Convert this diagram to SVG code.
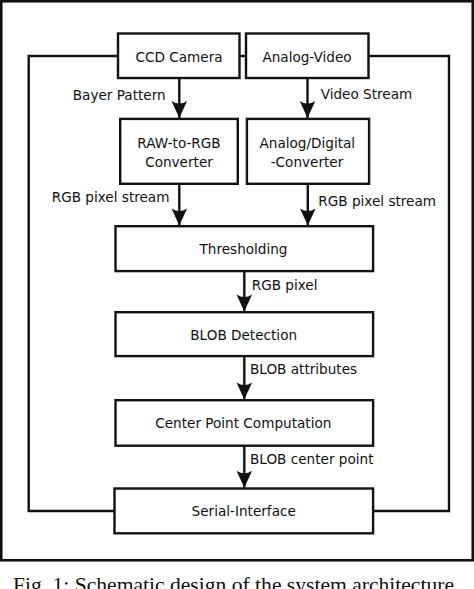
<svg xmlns="http://www.w3.org/2000/svg" width="474" height="589" viewBox="0 0 474 589">
<style>
.box{fill:#fff;stroke:#111;stroke-width:2.4}
.ln{fill:none;stroke:#111;stroke-width:2.4}
.t{font-family:"DejaVu Sans",Verdana,sans-serif;font-size:13.6px;fill:#111}
.c{text-anchor:middle}
.e{text-anchor:end}
.cap{font-family:"Liberation Serif","Times New Roman",serif;font-size:21.5px;fill:#111}
</style>
<defs>
<marker id="ah" markerUnits="userSpaceOnUse" markerWidth="20" markerHeight="18" viewBox="-18 -9 20 18" refX="0" refY="0" orient="auto">
<path d="M0,0 L-17,-7.8 Q-12,0 -17,7.8 Z" fill="#111"/>
</marker>
</defs>
<rect x="1.25" y="1.25" width="471.5" height="559" fill="#fff" stroke="#111" stroke-width="2.6"/>
<g id="connectors">
<polyline class="ln" points="118,56 28.7,56 28.7,511 114.5,511"/>
<polyline class="ln" points="368.5,56 449,56 449,511 373.1,511"/>
<line class="ln" x1="239.5" y1="56" x2="246" y2="56"/>
<line class="ln" x1="179.3" y1="78" x2="179.3" y2="118" marker-end="url(#ah)"/>
<line class="ln" x1="307.5" y1="78" x2="307.5" y2="118" marker-end="url(#ah)"/>
<line class="ln" x1="179.3" y1="183.8" x2="179.3" y2="225.5" marker-end="url(#ah)"/>
<line class="ln" x1="307.8" y1="183.8" x2="307.8" y2="225.5" marker-end="url(#ah)"/>
<line class="ln" x1="244.3" y1="270.9" x2="244.3" y2="311.5" marker-end="url(#ah)"/>
<line class="ln" x1="244.3" y1="356" x2="244.3" y2="399.5" marker-end="url(#ah)"/>
<line class="ln" x1="244.3" y1="445.7" x2="244.3" y2="487.8" marker-end="url(#ah)"/>
<text class="t e" x="165.7" y="100">Bayer Pattern</text>
<text class="t" x="320.7" y="98.7">Video Stream</text>
<text class="t" x="51.7" y="201.7">RGB pixel stream</text>
<text class="t" x="318.3" y="205.7">RGB pixel stream</text>
<text class="t" x="251.7" y="290">RGB pixel</text>
<text class="t" x="250" y="374.3">BLOB attributes</text>
<text class="t" x="250" y="464">BLOB center point</text>
</g>
<g id="ccd"><rect class="box" x="118" y="33.5" width="121.5" height="44.5"/><text class="t c" x="179" y="61.7">CCD Camera</text></g>
<g id="analog-video"><rect class="box" x="246" y="33.5" width="122.5" height="44.5"/><text class="t c" x="307" y="61.7">Analog-Video</text></g>
<g id="raw2rgb"><rect class="box" x="120.2" y="118.9" width="117.6" height="64.9"/><text class="t c" x="179" y="148.3">RAW-to-RGB</text><text class="t c" x="179" y="166.7">Converter</text></g>
<g id="adc"><rect class="box" x="246.9" y="118.9" width="122.2" height="64.9"/><text class="t c" x="307.3" y="148">Analog/Digital</text><text class="t c" x="307" y="166.7">-Converter</text></g>
<g id="thresholding"><rect class="box" x="115.5" y="226.2" width="257.6" height="44.9"/><text class="t c" x="243.5" y="254">Thresholding</text></g>
<g id="blob"><rect class="box" x="115.5" y="312.2" width="257.6" height="43.9"/><text class="t c" x="243.7" y="340">BLOB Detection</text></g>
<g id="center"><rect class="box" x="115.5" y="400.2" width="257.6" height="45.5"/><text class="t c" x="243.3" y="428.3">Center Point Computation</text></g>
<g id="serial"><rect class="box" x="114.5" y="488.5" width="258.6" height="44.8"/><text class="t c" x="243.7" y="516">Serial-Interface</text></g>
<text class="cap" x="13" y="592" textLength="441" lengthAdjust="spacingAndGlyphs">Fig. 1: Schematic design of the system architecture</text>
</svg>
